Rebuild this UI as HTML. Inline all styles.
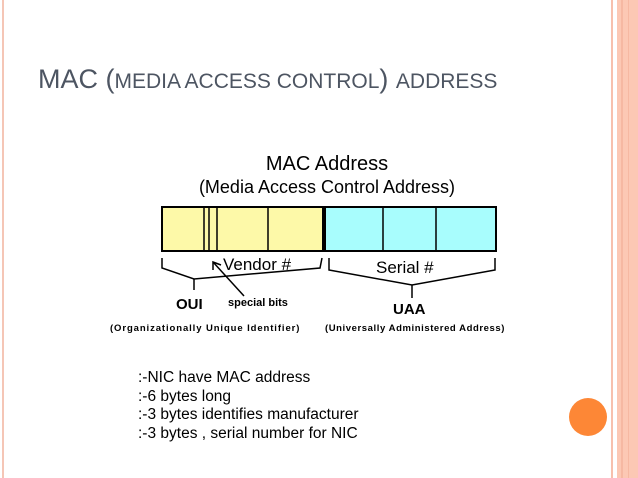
<!DOCTYPE html>
<html><head><style>
body{margin:0;width:638px;height:478px;background:#fff;position:relative;overflow:hidden;font-family:"Liberation Sans",sans-serif}
.t{position:absolute;white-space:nowrap}
</style></head><body>
<div style="position:absolute;left:2px;top:0;width:2px;height:478px;background:#f5c6b6"></div>
<div style="position:absolute;left:611px;top:0;width:2px;height:478px;background:#f7c0ad"></div>
<div style="position:absolute;left:617px;top:0;width:21px;height:478px;background:#fcc8b4"></div>
<div style="position:absolute;left:621px;top:0;width:2px;height:478px;background:#f6b8a2"></div>
<div style="position:absolute;left:628px;top:0;width:1px;height:478px;background:#f6b8a2"></div>
<div style="position:absolute;left:569px;top:398px;width:38px;height:38px;border-radius:50%;background:#fd8736"></div>
<div class="t" style="left:38px;top:64px;font-size:27px;color:#4d5562">MAC (<span style="font-size:21px">MEDIA ACCESS CONTROL</span>) <span style="font-size:21px">ADDRESS</span></div>
<svg width="638" height="478" style="position:absolute;left:0;top:0">
<text x="327" y="170" font-size="20" text-anchor="middle" font-family="Liberation Sans">MAC Address</text>
<text x="327" y="193" font-size="18" text-anchor="middle" font-family="Liberation Sans">(Media Access Control Address)</text>
<rect x="162" y="207" width="162" height="44" fill="#fdf9a8" stroke="#000" stroke-width="2"/>
<rect x="325" y="207" width="171" height="44" fill="#a8fdfd" stroke="#000" stroke-width="2"/>
<rect x="322" y="206" width="4" height="46" fill="#000"/>
<g stroke="#000" stroke-width="1.5"><line x1="204" y1="207" x2="204" y2="251"/><line x1="209" y1="207" x2="209" y2="251"/><line x1="217" y1="207" x2="217" y2="251"/><line x1="268" y1="207" x2="268" y2="251"/><line x1="383" y1="207" x2="383" y2="251"/><line x1="436" y1="207" x2="436" y2="251"/></g>
<g stroke="#000" stroke-width="1.5" fill="none">
<polyline points="162,258 162,268 194,279 320,268 322,258"/>
<line x1="194" y1="279" x2="194" y2="290"/>
<polyline points="329,258 329,270 412,285 495,270 495,258"/>
<line x1="412" y1="285" x2="412" y2="298"/>
<line x1="244" y1="296" x2="213" y2="262"/>
<polyline points="213,270 213,262 221,265"/>
</g>
<text x="223" y="270" font-size="17" font-family="Liberation Sans">Vendor #</text>
<text x="376" y="273" font-size="17" font-family="Liberation Sans">Serial #</text>
<text x="176" y="309" font-size="15" font-weight="bold" font-family="Liberation Sans">OUI</text>
<text x="228" y="306" font-size="11" font-weight="bold" font-family="Liberation Sans">special bits</text>
<text x="393" y="314" font-size="15" font-weight="bold" font-family="Liberation Sans">UAA</text>
<text x="110" y="331" font-size="9.5" font-weight="bold" letter-spacing="0.6" textLength="190" font-family="Liberation Sans">(Organizationally Unique Identifier)</text>
<text x="325" y="331" font-size="9.5" font-weight="bold" letter-spacing="0.6" textLength="180" font-family="Liberation Sans">(Universally Administered Address)</text>
</svg>
<div class="t" style="left:138px;top:369px;font-size:15.5px;line-height:18.7px;color:#000">:-NIC have MAC address<br>:-6 bytes long<br>:-3 bytes identifies manufacturer<br>:-3 bytes , serial number for NIC</div>
</body></html>
